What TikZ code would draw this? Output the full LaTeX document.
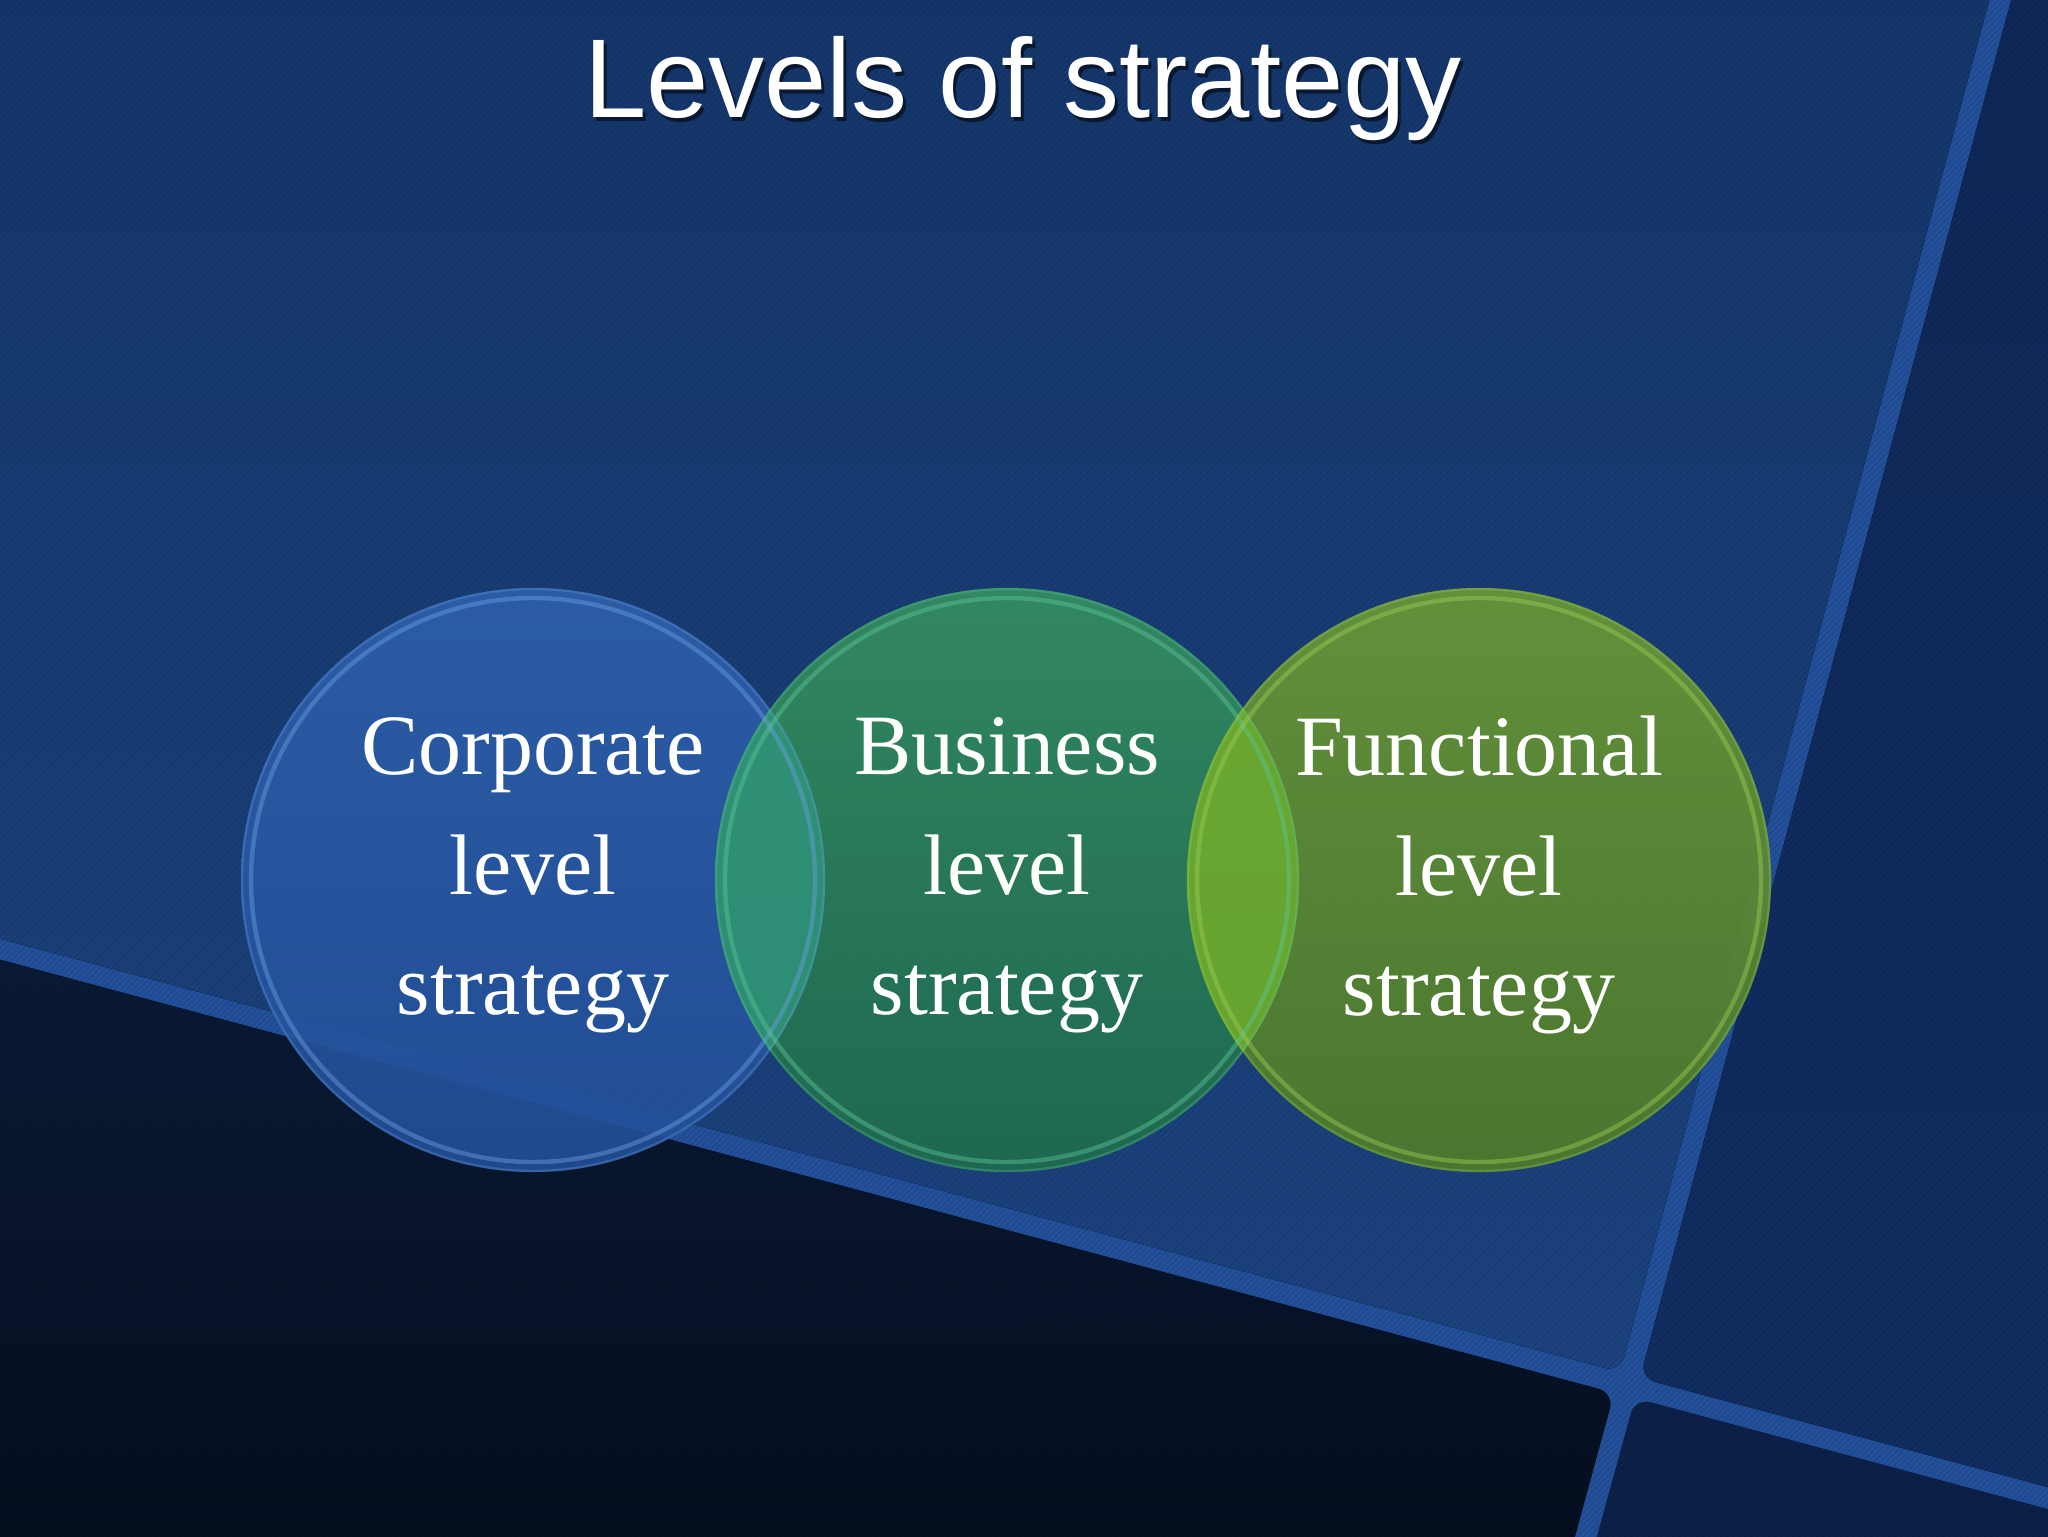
\documentclass[tikz,border=0pt]{standalone}
\usepackage{fontspec}
\setmainfont{Liberation Serif}
\newfontfamily\titlefont{Liberation Sans}
\usetikzlibrary{patterns}
\definecolor{bandc}{HTML}{23509A}
\definecolor{regAtop}{HTML}{14366A}
\definecolor{regAbot}{HTML}{1C437F}
\definecolor{regBtop}{HTML}{0E2858}
\definecolor{regBbot}{HTML}{112E62}
\definecolor{regCtop}{HTML}{0A1A36}
\definecolor{regCbot}{HTML}{050E1E}
\definecolor{regD}{HTML}{0C2048}
\definecolor{corpTop}{HTML}{2D60AB}
\definecolor{corpBot}{HTML}{234F98}
\definecolor{busTop}{HTML}{35915F}
\definecolor{busBot}{HTML}{1F6C4C}
\definecolor{funTop}{HTML}{6B9A35}
\definecolor{funBot}{HTML}{4F7C28}
\definecolor{lensCB}{HTML}{30937A}
\definecolor{lensBF}{HTML}{6AAB30}
\definecolor{corpRim}{HTML}{6A9EE0}
\definecolor{busRim}{HTML}{5CC596}
\definecolor{funRim}{HTML}{9CCC55}
\tikzset{
  region/.style={rounded corners=8pt},
  disc/.style={circle, minimum size=292pt, inner sep=0pt, fill opacity=0.9},
  outerrim/.style={line width=1.2pt, draw opacity=0.3},
  innerrim/.style={line width=2.2pt, draw opacity=0.45},
  lbl/.style={text=white, align=center, font=\fontsize{43}{60}\selectfont},
  ttl/.style={text=white, font=\titlefont\fontsize{56}{60}\selectfont, anchor=base},
  ttlshadow/.style={text=black, text opacity=0.55, font=\titlefont\fontsize{56}{60}\selectfont, anchor=base}
}
\begin{document}
\begin{tikzpicture}[x=0.5pt,y=-0.5pt]
\useasboundingbox (0,0) rectangle (2048,1536);
% background bands
\fill[bandc] (-20,-20) rectangle (2068,1556);
% region A: upper left
\fill[region, top color=regAtop, bottom color=regAbot]
  (-40,-40) -- (2000,-40) -- (1620,1372) -- (-40,928) -- cycle;
% region B: upper right
\fill[region, top color=regBtop, bottom color=regBbot]
  (2022,-40) -- (2100,-40) -- (2100,1501) -- (1640,1378) -- cycle;
% region C: lower left
\fill[region, top color=regCtop, bottom color=regCbot]
  (-40,949) -- (1614,1393) -- (1563,1580) -- (-40,1580) -- cycle;
% region D: lower right
\fill[region, regD]
  (1635,1398) -- (2100,1523) -- (2100,1580) -- (1585,1580) -- cycle;
% fine diagonal texture
\fill[pattern=north east lines, pattern color=black, opacity=0.12] (0,0) rectangle (2048,1536);

% title
\node[ttlshadow] (titleshadow) at (1026,121) {Levels of strategy};
\node[ttl] (title) at (1023,118) {Levels of strategy};

% discs
\node[disc, top color=corpTop, bottom color=corpBot] (corp) at (533,880) {};
\node[disc, top color=busTop, bottom color=busBot] (bus) at (1007,880) {};
\node[disc, top color=funTop, bottom color=funBot] (func) at (1479,880) {};

% overlaps
\begin{scope}
  \clip (corp.center) circle (146pt);
  \fill[lensCB, fill opacity=0.85] (bus.center) circle (146pt);
\end{scope}
\begin{scope}
  \clip (bus.center) circle (146pt);
  \fill[lensBF, fill opacity=0.85] (func.center) circle (146pt);
\end{scope}

% rims
\draw[outerrim, corpRim] (corp.center) circle (145.5pt);
\draw[innerrim, corpRim] (corp.center) circle (141pt);
\draw[outerrim, busRim] (bus.center) circle (145.5pt);
\draw[innerrim, busRim] (bus.center) circle (141pt);
\draw[outerrim, funRim] (func.center) circle (145.5pt);
\draw[innerrim, funRim] (func.center) circle (141pt);

% labels
\node[lbl] (corpT) at (533,875) {Corporate\\level\\strategy};
\node[lbl] (busT) at (1007,875) {Business\\level\\strategy};
\node[lbl] (funcT) at (1479,875) {Functional\\level\\strategy};
\end{tikzpicture}
\end{document}
